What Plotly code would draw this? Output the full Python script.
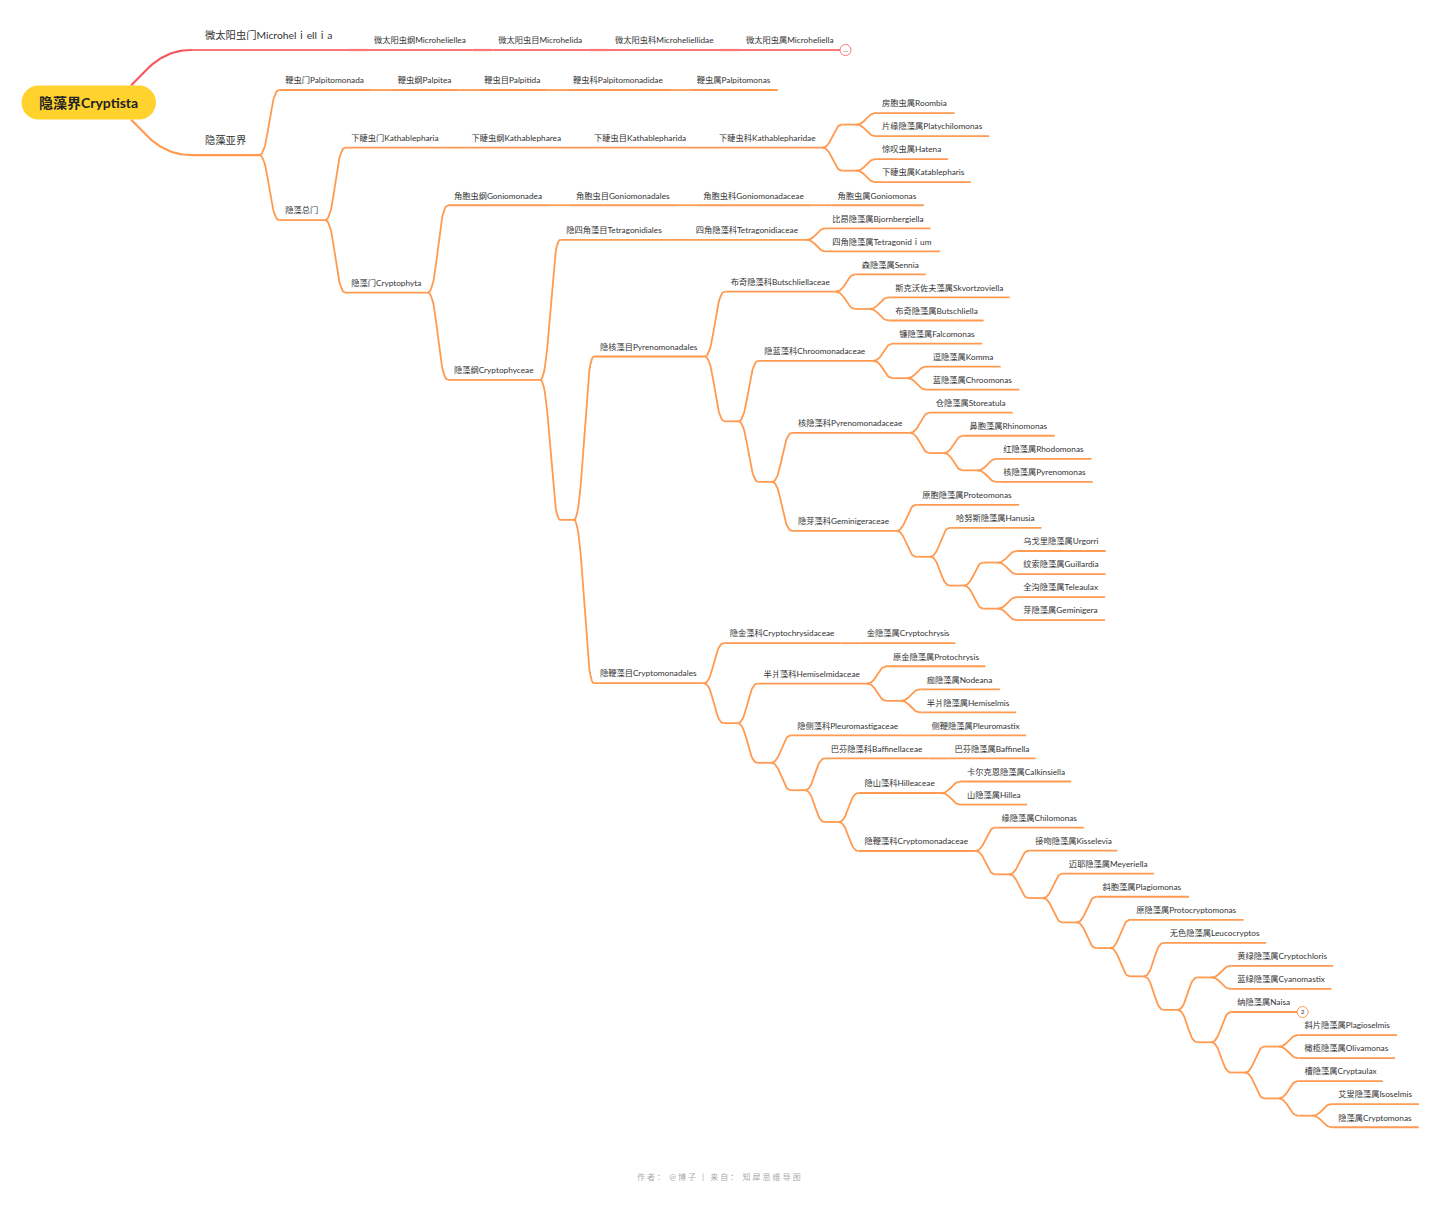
import plotly.graph_objects as go

# ---------- data: the outline of the mind map ("" = unlabelled fork) ----------
node_labels = [
 "隐藻界Cryptista",
 "微太阳虫门Microhelｉellｉa","微太阳虫纲Microheliellea","微太阳虫目Microhelida","微太阳虫科Microheliellidae","微太阳虫属Microheliella",
 "隐藻亚界",
 "鞭虫门Palpitomonada","鞭虫纲Palpitea","鞭虫目Palpitida","鞭虫科Palpitomonadidae","鞭虫属Palpitomonas",
 "隐藻总门",
 "下睫虫门Kathablepharia","下睫虫纲Kathablepharea","下睫虫目Kathablepharida","下睫虫科Kathablepharidae",
 "","房胞虫属Roombia","片缘隐藻属Platychilomonas","","惊叹虫属Hatena","下睫虫属Katablepharis",
 "隐藻门Cryptophyta",
 "角胞虫纲Goniomonadea","角胞虫目Goniomonadales","角胞虫科Goniomonadaceae","角胞虫属Goniomonas",
 "隐藻纲Cryptophyceae",
 "隐四角藻目Tetragonidiales","四角隐藻科Tetragonidiaceae","比昂隐藻属Bjornbergiella","四角隐藻属Tetragonidｉum",
 "",
 "隐核藻目Pyrenomonadales",
 "布奇隐藻科Butschliellaceae","森隐藻属Sennia","","斯克沃佐夫藻属Skvortzoviella","布奇隐藻属Butschliella",
 "",
 "隐蓝藻科Chroomonadaceae","镰隐藻属Falcomonas","","逗隐藻属Komma","蓝隐藻属Chroomonas",
 "",
 "核隐藻科Pyrenomonadaceae","仓隐藻属Storeatula","","鼻胞藻属Rhinomonas","","红隐藻属Rhodomonas","核隐藻属Pyrenomonas",
 "隐芽藻科Geminigeraceae","原胞隐藻属Proteomonas","","哈努斯隐藻属Hanusia","","","乌戈里隐藻属Urgorri","纹索隐藻属Guillardia","","全沟隐藻属Teleaulax","芽隐藻属Geminigera",
 "隐鞭藻目Cryptomonadales",
 "隐金藻科Cryptochrysidaceae","金隐藻属Cryptochrysis",
 "",
 "半爿藻科Hemiselmidaceae","原金隐藻属Protochrysis","","痂隐藻属Nodeana","半爿隐藻属Hemiselmis",
 "",
 "隐侧藻科Pleuromastigaceae","侧鞭隐藻属Pleuromastix",
 "",
 "巴芬隐藻科Baffinellaceae","巴芬隐藻属Baffinella",
 "",
 "隐山藻科Hilleaceae","卡尔克恩隐藻属Calkinsiella","山隐藻属Hillea",
 "隐鞭藻科Cryptomonadaceae","缘隐藻属Chilomonas","","接吻隐藻属Kisselevia","","迈耶隐藻属Meyeriella","","斜胞藻属Plagiomonas","","原隐藻属Protocryptomonas","","无色隐藻属Leucocryptos","",
 "","黄绿隐藻属Cryptochloris","蓝绿隐藻属Cyanomastix",
 "","纳隐藻属Naisa","","","斜片隐藻属Plagioselmis","橄榄隐藻属Olivamonas","","槽隐藻属Cryptaulax","","艾叟隐藻属Isoselmis","隐藻属Cryptomonas",
]
node_depths = [
 0,
 1,2,3,4,5,
 1,
 2,3,4,5,6,
 2,
 3,4,5,6,
 7,8,8,7,8,8,
 3,
 4,5,6,7,
 4,
 5,6,7,7,
 5,
 6,
 7,8,8,9,9,
 7,
 8,9,9,10,10,
 8,
 9,10,10,11,11,12,12,
 9,10,10,11,11,12,13,13,12,13,13,
 6,
 7,8,
 7,
 8,9,9,10,10,
 8,
 9,10,
 9,
 10,11,
 10,
 11,12,12,
 11,12,12,13,13,14,14,15,15,16,16,17,17,
 18,19,19,
 18,19,19,20,21,21,20,21,21,22,22,
]
collapsed_badges = {"微太阳虫属Microheliella": "...", "纳隐藻属Naisa": "2"}
footer_text = "作 者 ：  @ 博 子   |   来 自 ：  知 犀 思 维 导 图"

# ---------- tree layout ----------
LATIN = dict(zip("abcdefghijklmnopqrstuvwxyz",
  [509,588,462,588,523,313,588,565,225,242,497,225,861,565,586,588,588,348,424,339,565,479,732,462,483,452]))
CAPS = dict(zip("ABCDEFGHIJKLMNOPQRSTUVWXYZ",
  [645,570,619,701,506,488,686,710,266,347,565,471,901,753,750,560,750,594,532,523,687,620,925,607,559,565]))

def text_w(s, size):
    w = 0
    for c in s:
        if c in LATIN: w += LATIN[c] / 1000
        elif c in CAPS: w += CAPS[c] / 1000
        elif c == "ｉ" and size > 9: w += 1.15
        else: w += 1.0
    return w * size

n = len(node_labels)
parent = [None] * n
stack = {}
for i, d in enumerate(node_depths):
    stack[d] = i
    if d > 0:
        parent[i] = stack[d - 1]
children = [[] for _ in range(n)]
for i, p in enumerate(parent):
    if p is not None:
        children[p].append(i)

FS = {0: 14, 1: 10.3}
FS_DEF = 8.25
LEAF_STEP = 23.05
TOP_EXTRA = 16.95
ys = [0.0] * n
cursor = [50.0]
def place_y(i):
    if not children[i]:
        ys[i] = cursor[0]
        cursor[0] += LEAF_STEP
    else:
        for k, c in enumerate(children[i]):
            if i == 0 and k > 0:
                cursor[0] += TOP_EXTRA
            place_y(c)
        ys[i] = (ys[children[i][0]] + ys[children[i][-1]]) / 2
place_y(0)

line_start = [0.0] * n
text_x = [0.0] * n
line_end = [0.0] * n
GAP = 20; PAD_L = 6; PAD_R = 7; FORK_W = 13.67
def place_x(i):
    d = node_depths[i]
    lab = node_labels[i]
    if d == 0:
        line_end[i] = 156
    elif d == 1:
        line_start[i] = 192; text_x[i] = 205
        line_end[i] = 205 + text_w(lab, FS[1]) + 13
    else:
        pe = line_end[parent[i]]
        line_start[i] = pe + GAP
        if lab:
            text_x[i] = line_start[i] + PAD_L
            line_end[i] = text_x[i] + text_w(lab, FS_DEF) + PAD_R
        else:
            line_end[i] = line_start[i] + FORK_W
    for c in children[i]:
        place_x(c)
place_x(0)

ORANGE = "#FF9A50"
RED_ROOT = "#F4595F"
RED = "#FF7679"
TEXT = "#333333"

def bez(p0, p1, p2, p3, m=28):
    xs, yy = [], []
    for k in range(m + 1):
        t = k / m; u = 1 - t
        xs.append(u**3*p0[0] + 3*u*u*t*p1[0] + 3*u*t*t*p2[0] + t**3*p3[0])
        yy.append(u**3*p0[1] + 3*u*u*t*p1[1] + 3*u*t*t*p2[1] + t**3*p3[1])
    return xs, yy

branch_red = set()
def mark(i):
    branch_red.add(i)
    for c in children[i]:
        mark(c)
mark(children[0][0])

fig = go.Figure()
groups = {}
def add(key, xs, yy):
    g = groups.setdefault(key, ([], []))
    g[0].extend(xs + [None]); g[1].extend(yy + [None])

for i in range(1, n):
    d = node_depths[i]
    red = i in branch_red
    col = RED if red else ORANGE
    key = (col, 2.2 if red or d == 1 else 1.8)
    add(key, [line_start[i], line_end[i]], [ys[i], ys[i]])
    p = parent[i]
    if p == 0:
        sign = 1 if ys[i] > ys[0] else -1
        x0, y0 = 131, ys[0] + sign * 17
        xs, yy = bez((x0, y0), (150, y0 + sign * 20), (163, ys[i]), (line_start[i], ys[i]))
        add((RED_ROOT if red else ORANGE, 2.2), xs, yy)
    elif abs(ys[i] - ys[p]) < 0.5:
        add(key, [line_end[p], line_start[i]], [ys[i], ys[i]])
    else:
        mx = (line_end[p] + line_start[i]) / 2
        xs, yy = bez((line_end[p], ys[p]), (mx, ys[p]), (mx, ys[i]), (line_start[i], ys[i]))
        add(key, xs, yy)

for (c, w), (xs, yy) in groups.items():
    fig.add_trace(go.Scatter(x=xs, y=yy, mode="lines", hoverinfo="skip", showlegend=False,
        line=dict(color=c, width=w, shape="linear")))

FONT = "Lato, 'Noto Sans CJK SC', sans-serif"
idx2 = [i for i in range(n) if node_depths[i] >= 2 and node_labels[i]]
fig.add_trace(go.Scatter(x=[text_x[i] for i in idx2], y=[ys[i] - 8.8 for i in idx2],
    text=[node_labels[i] for i in idx2], mode="text", textposition="middle right",
    textfont=dict(family=FONT, size=FS_DEF, color=TEXT), hoverinfo="skip", showlegend=False))
idx1 = children[0]
fig.add_trace(go.Scatter(x=[text_x[i] for i in idx1], y=[ys[i] - 13.5 for i in idx1],
    text=[node_labels[i] for i in idx1], mode="text", textposition="middle right",
    textfont=dict(family=FONT, size=FS[1], color=TEXT), hoverinfo="skip", showlegend=False))

# collapse badges
bx, by, bt, bc = [], [], [], []
for i in range(n):
    if node_labels[i] in collapsed_badges:
        bx.append(line_end[i] + 5.5); by.append(ys[i]); bt.append(collapsed_badges[node_labels[i]])
        bc.append(RED if i in branch_red else ORANGE)
fig.add_trace(go.Scatter(x=bx, y=by, text=bt, mode="markers+text", textposition="middle center",
    marker=dict(size=11, color="white", line=dict(color=bc, width=1)),
    textfont=dict(family=FONT, size=6.5, color=TEXT), hoverinfo="skip", showlegend=False))

# root pill
fig.add_shape(type="path", layer="above", line=dict(width=0), fillcolor="#FFD22E", xref="x", yref="y",
    path="M 38.5 85.5 L 139 85.5 C 148.4 85.5 156 93.1 156 102.5 C 156 111.9 148.4 119.5 139 119.5 "
         "L 38.5 119.5 C 29.1 119.5 21.5 111.9 21.5 102.5 C 21.5 93.1 29.1 85.5 38.5 85.5 Z")
fig.add_annotation(x=88.5, y=102.5, text=node_labels[0], showarrow=False, xref="x", yref="y",
    font=dict(family=FONT, size=FS[0], color="#222222", weight="bold"))

# footer
fig.add_annotation(x=719, y=1177, text=footer_text, showarrow=False, xref="x", yref="y",
    font=dict(family=FONT, size=8, color="#AAAAAA"))

fig.update_layout(width=1440, height=1205, margin=dict(l=0, r=0, t=0, b=0),
    paper_bgcolor="white", plot_bgcolor="white", showlegend=False,
    xaxis=dict(range=[0, 1440], visible=False, fixedrange=True),
    yaxis=dict(range=[1205, 0], visible=False, fixedrange=True))
fig.write_html("out.html", post_script="document.body.style.margin='0';", config={"displayModeBar": False})
